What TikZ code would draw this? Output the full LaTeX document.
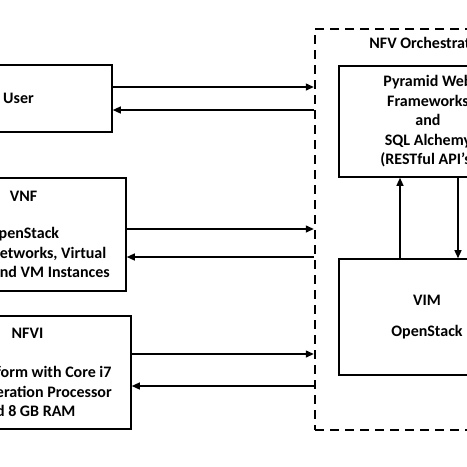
\documentclass[tikz,border=0pt]{standalone}
\usepackage{fontspec}
\setmainfont{Carlito}
\usetikzlibrary{arrows.meta,positioning}
\begin{document}
\begin{tikzpicture}[x=1pt, y=-1pt,
    mybox/.style={draw, line width=1.6pt, align=center, inner sep=0pt, font=\fontsize{16}{19.5}\selectfont\bfseries},
    myorch/.style={draw, line width=2.4pt, dash pattern=on 9pt off 6pt, minimum width=224pt, minimum height=401pt},
    myflow/.style={line width=1.3pt, -{Triangle[length=8pt, width=7pt]}}]
  \useasboundingbox (0,0) rectangle (467,467);
  \clip (0,0) rectangle (467,467);
  \node[myorch] (orch) at (427,229.5) {};
  \node[inner sep=0pt, font=\fontsize{16}{19.5}\selectfont\bfseries, below=9pt of orch.north] (orchtitle) {NFV Orchestrator};
  \node[mybox, minimum width=187pt, minimum height=67pt] (user) at (18.5,98.5) {User};
  \node[mybox, minimum width=205pt, minimum height=113pt] (vnf) at (23.5,234.5)
    {VNF\\[18pt]OpenStack\\Virtual Networks, Virtual\\Routers and VM Instances};
  \node[mybox, minimum width=207pt, minimum height=113pt] (nfvi) at (27.5,372.5)
    {NFVI\\[20pt]x86 Platform with Core i7\\4th Generation Processor\\and 8 GB RAM};
  \node[mybox, minimum width=178pt, minimum height=111pt] (web) at (428,121.5)
    {Pyramid Web\\Frameworks\\and\\SQL Alchemy\\(RESTful API’s)};
  \node[mybox, minimum width=176pt, minimum height=116pt] (vim) at (427,317) {VIM\\[12pt]OpenStack};
  \foreach \n/\a/\b in {user/11.5/-11.5, vnf/5.5/-22.5, nfvi/18.5/-13.5}{
    \path ([yshift=\a pt]\n.east) coordinate (\n-out) ([yshift=\b pt]\n.east) coordinate (\n-in);
    \draw[myflow] (\n-out) -- (\n-out -| orch.west);
    \draw[myflow] (\n-in -| orch.west) -- (\n-in);
  }
  \path ([xshift=-27pt]vim.north) coordinate (vim-up) ([xshift=30pt]web.south) coordinate (web-down);
  \draw[myflow] (vim-up) -- (vim-up |- web.south);
  \draw[myflow] (web-down) -- (web-down |- vim.north);
\end{tikzpicture}
\end{document}
